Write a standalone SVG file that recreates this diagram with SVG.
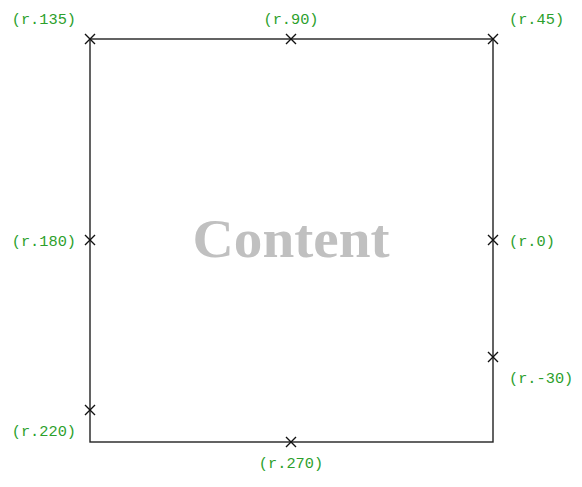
<svg xmlns="http://www.w3.org/2000/svg" width="582" height="487" viewBox="0 0 582 487">
<style>
.lbl{font-family:"Liberation Mono","DejaVu Sans Mono",monospace;font-size:15.3px;fill:#2ca02c}
.x{stroke:#111;stroke-width:1.4;fill:none}
.box{stroke:#222;stroke-width:1.4;fill:none}
</style>
<defs>
<path id="cross" class="x" d="M-5,-5L5,5M-5,5L5,-5"/>
</defs>
<rect width="582" height="487" fill="#fff"/>
<g id="connectors">
<rect class="box" x="90" y="39" width="403" height="403"/>
</g>
<g id="content">
<text x="291" y="257" text-anchor="middle" font-family="'Liberation Serif',serif" font-weight="bold" font-size="55" fill="#c0c0c0" textLength="197" lengthAdjust="spacingAndGlyphs">Content</text>
</g>
<g id="n135"><use href="#cross" x="90" y="39"/><text class="lbl" x="76" y="24" text-anchor="end">(r.135)</text></g>
<g id="n90"><use href="#cross" x="291" y="39"/><text class="lbl" x="291" y="24" text-anchor="middle">(r.90)</text></g>
<g id="n45"><use href="#cross" x="493" y="39"/><text class="lbl" x="509" y="24">(r.45)</text></g>
<g id="n180"><use href="#cross" x="90" y="240"/><text class="lbl" x="76" y="246" text-anchor="end">(r.180)</text></g>
<g id="n0"><use href="#cross" x="493" y="240"/><text class="lbl" x="509" y="246">(r.0)</text></g>
<g id="nm30"><use href="#cross" x="493" y="357"/><text class="lbl" x="509" y="383">(r.-30)</text></g>
<g id="n220"><use href="#cross" x="90" y="410"/><text class="lbl" x="76" y="436" text-anchor="end">(r.220)</text></g>
<g id="n270"><use href="#cross" x="291" y="442"/><text class="lbl" x="291" y="468" text-anchor="middle">(r.270)</text></g>
</svg>
